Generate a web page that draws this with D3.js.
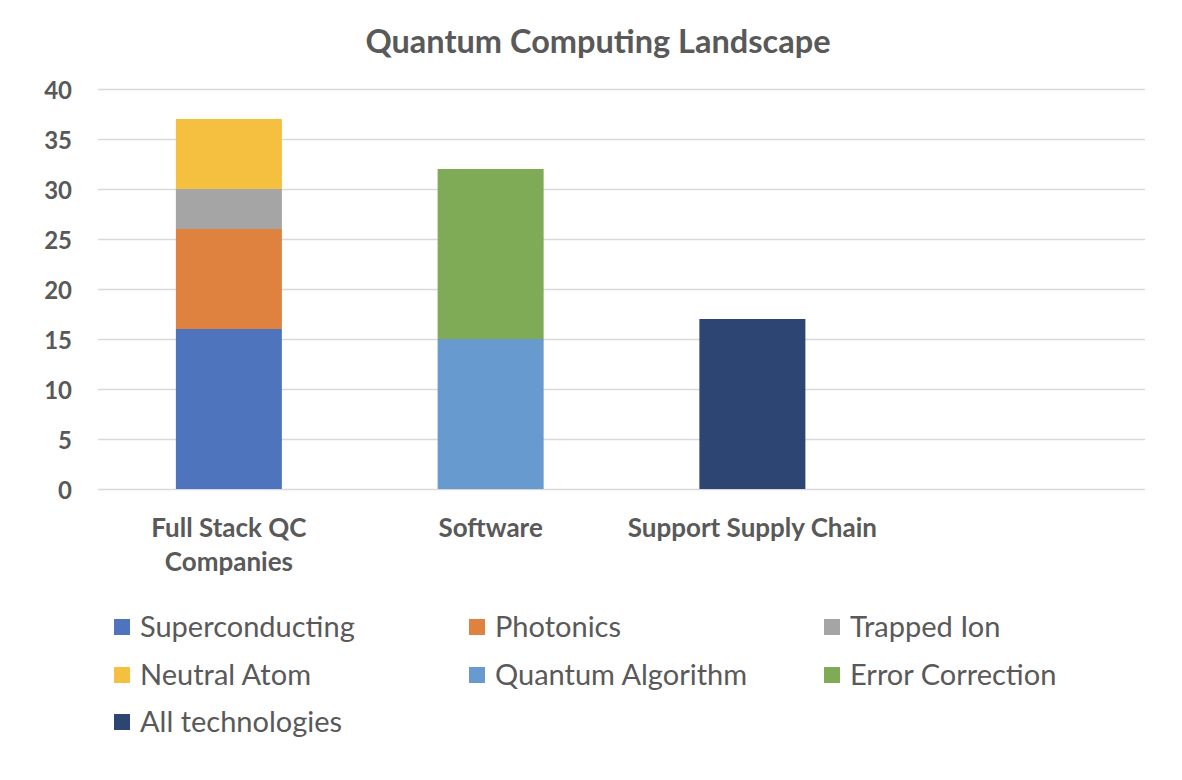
<!DOCTYPE html>
<html>
<head>
<meta charset="utf-8">
<script src="https://cdn.jsdelivr.net/npm/d3@7"></script>
<style>
  body { margin: 0; background: #fff; }
  svg { display: block; font-family: Lato, "Open Sans", sans-serif; }
</style>
</head>
<body>
<div id="chart"></div>
<script>
/* Stacked column chart: quantum computing landscape */

const categories = ['Full Stack QC Companies', 'Software', 'Support Supply Chain', ''];
const seriesNames = ['Superconducting', 'Photonics', 'Trapped Ion', 'Neutral Atom',
  'Quantum Algorithm', 'Error Correction', 'All technologies'];
const seriesColors = ['#4e74be', '#e0823f', '#a5a5a5', '#f5c040', '#679bd0', '#7fab56', '#2d4573'];

const superconducting = [16, 0, 0, 0];
const photonics = [10, 0, 0, 0];
const trappedIon = [4, 0, 0, 0];
const neutralAtom = [7, 0, 0, 0];
const quantumAlgorithm = [0, 15, 0, 0];
const errorCorrection = [0, 17, 0, 0];
const allTechnologies = [0, 0, 17, 0];

const yTicks = [0, 5, 10, 15, 20, 25, 30, 35, 40];

const seriesValues = [superconducting, photonics, trappedIon, neutralAtom,
  quantumAlgorithm, errorCorrection, allTechnologies];

const width = 1182;
const height = 780;
const textColor = '#595959';

const rows = categories.map((c, i) => {
  const row = { category: c };
  seriesNames.forEach((s, j) => { row[s] = seriesValues[j][i]; });
  return row;
});

const stacked = d3.stack().keys(seriesNames)(rows);

const x = d3.scaleBand()
  .domain(categories)
  .range([98, 1145])
  .paddingInner(0.595)
  .paddingOuter(0.2975);

const y = d3.scaleLinear().domain([0, 40]).range([489, 89]);

const color = d3.scaleOrdinal().domain(seriesNames).range(seriesColors);

const svg = d3.select('#chart').append('svg')
  .attr('width', width)
  .attr('height', height);

// title
svg.append('text')
  .attr('x', 598)
  .attr('y', 53)
  .attr('text-anchor', 'middle')
  .attr('font-size', 32.5)
  .attr('font-weight', 'bold')
  .attr('fill', textColor)
  .text('Quantum Computing Landscape');

// gridlines
svg.append('g')
  .selectAll('line')
  .data(yTicks)
  .join('line')
  .attr('x1', 98)
  .attr('x2', 1145)
  .attr('y1', (d) => y(d) + 0.5)
  .attr('y2', (d) => y(d) + 0.5)
  .attr('stroke', '#d9d9d9')
  .attr('stroke-width', 1.5);

// y axis labels
const yAxis = svg.append('g')
  .attr('transform', 'translate(72,2)')
  .call(d3.axisLeft(y).tickValues(yTicks).tickSize(0).tickPadding(0));
yAxis.select('.domain').remove();
yAxis.selectAll('text')
  .attr('font-family', 'Lato, "Open Sans", sans-serif')
  .attr('font-size', 24)
  .attr('font-weight', 'bold')
  .attr('fill', textColor);

// bars
svg.append('g')
  .selectAll('g')
  .data(stacked)
  .join('g')
  .attr('fill', (d) => color(d.key))
  .selectAll('rect')
  .data((d) => d.filter((v) => v[1] - v[0] > 0))
  .join('rect')
  .attr('x', (d) => x(d.data.category))
  .attr('y', (d) => y(d[1]))
  .attr('width', x.bandwidth())
  .attr('height', (d) => y(d[0]) - y(d[1]));

// x axis labels, wrapped
const xLabelLines = {
  'Full Stack QC Companies': ['Full Stack QC', 'Companies'],
  'Software': ['Software'],
  'Support Supply Chain': ['Support Supply Chain'],
  '': [],
};
svg.append('g')
  .selectAll('text')
  .data(categories)
  .join('text')
  .attr('text-anchor', 'middle')
  .attr('font-size', 26)
  .attr('font-weight', 'bold')
  .attr('fill', textColor)
  .attr('x', (d) => x(d) + x.bandwidth() / 2)
  .attr('y', 537)
  .selectAll('tspan')
  .data((d) => xLabelLines[d].map((t) => ({ t, cx: x(d) + x.bandwidth() / 2 })))
  .join('tspan')
  .attr('x', (d) => d.cx)
  .attr('dy', (d, i) => (i === 0 ? 0 : 34))
  .text((d) => d.t);

// legend
const legendCols = [114, 469, 824];
const legendRows = [627, 675, 722];
const legend = svg.append('g')
  .selectAll('g')
  .data(seriesNames)
  .join('g')
  .attr('transform', (d, i) => `translate(${legendCols[i % 3]},${legendRows[Math.floor(i / 3)]})`);
legend.append('rect')
  .attr('x', 0)
  .attr('y', -8)
  .attr('width', 16)
  .attr('height', 16)
  .attr('fill', (d) => color(d));
legend.append('text')
  .attr('x', 26)
  .attr('y', 0)
  .attr('dy', '0.35em')
  .attr('font-size', 29)
  .attr('fill', textColor)
  .text((d) => d);
</script>
</body>
</html>
